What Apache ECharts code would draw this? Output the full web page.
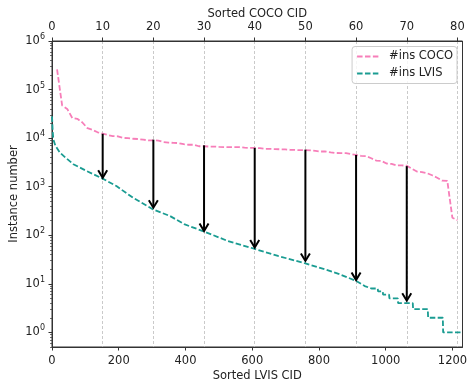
<!DOCTYPE html>
<html><head><meta charset="utf-8">
<script src="https://cdn.jsdelivr.net/npm/echarts@6/dist/echarts.min.js"></script>
<style>html,body{margin:0;padding:0;background:#fff}#c{width:474px;height:382px}</style>
</head><body><div id="c"></div>
<script>
// COCO instance counts, sorted, plotted against the top axis at CID 1..80
const cocoCounts = [260000, 47000, 40000, 26000, 25000, 21000, 16000, 14800, 13200, 12400,
  11600, 11000, 10900, 10100, 10000, 9700, 9600, 9300, 9000, 9000,
  8900, 8300, 8100, 8000, 7900, 7500, 7300, 7300, 6800, 6800,
  6700, 6700, 6600, 6550, 6500, 6500, 6500, 6350, 6300, 6300,
  6200, 6000, 6000, 5950, 5900, 5850, 5750, 5700, 5650, 5650,
  5600, 5450, 5300, 5300, 5100, 4950, 4900, 4900, 4700, 4500,
  4300, 4250, 3850, 3450, 3400, 3000, 2950, 2750, 2750, 2700,
  2350, 2050, 2000, 1900, 1720, 1530, 1330, 1320, 230, 205];
// LVIS instance counts, sorted, sampled at these LVIS CIDs (bottom axis)
const lvisIdx = [0, 2, 4, 10, 24, 40, 64, 104, 149, 193, 243, 303, 353, 398, 452, 527, 605, 677, 757, 816, 861, 911, 937, 957, 976, 977, 991, 992, 1010, 1011, 1036, 1037, 1081, 1082, 1126, 1127, 1171, 1172, 1229];
const lvisCounts = [28000, 14000, 9400, 7000, 5000, 4000, 2900, 2100, 1500, 1030, 590, 340, 250, 167, 122, 76, 53, 37.5, 26.6, 20, 15.8, 11.5, 9, 8, 8, 7, 7, 6, 6, 5, 5, 4, 4, 3, 3, 2, 2, 1, 1];
// arrows at COCO CIDs: from COCO count down to LVIS count
const arrowCid = [10, 20, 30, 40, 50, 60, 70];
const arrowFrom = [12300, 9300, 7100, 6300, 5800, 4500, 2650];
const arrowTo = [1530, 370, 122, 56, 29.6, 12, 4.5];
// tick values
const bottomTicks = [0, 200, 400, 600, 800, 1000, 1200];
const topTicks = [0, 10, 20, 30, 40, 50, 60, 70, 80];
const topGrid = [10, 20, 30, 40, 50, 60, 70, 80];
const yMajor = [1, 10, 100, 1000, 10000, 100000, 1000000];
const yMinor = [];
[0.1, 1, 10, 100, 1000, 10000, 100000].forEach(function (d) {
  for (let k = 2; k <= 9; k++) { const v = d * k; if (v >= 0.5 && v < 1e6) yMinor.push(v); }
});

const FONT = 'DejaVu Sans';
const TXT = '#222';
const AX = '#333';
const PINK = '#f77eb9';
const TEAL = '#1a9c92';

const chart = echarts.init(document.getElementById('c'), null, {renderer: 'canvas'});
const lab = {fontFamily: FONT, fontSize: 11.5, color: TXT};
const plain = function (v) { return String(v); };
const option = {
  animation: false,
  backgroundColor: '#fff',
  grid: {left: 52, right: 11.5, top: 41, bottom: 35, outerBoundsMode: 'none', containLabel: false,
    show: true, borderColor: AX, borderWidth: 1, backgroundColor: 'transparent'},
  legend: {
    data: ['#ins COCO', '#ins LVIS'], orient: 'vertical', right: 17, top: 46.5,
    backgroundColor: 'rgba(255,255,255,0.8)', borderColor: '#cccccc', borderWidth: 1, borderRadius: 3,
    padding: [4, 4, 4, 4], itemWidth: 23, itemHeight: 12, itemGap: 5,
    itemStyle: {opacity: 0, borderWidth: 0},
    textStyle: {fontFamily: FONT, fontSize: 11.5, color: TXT, padding: [0, 0, 0, 4]}
  },
  xAxis: [{
    type: 'value', position: 'bottom', min: 0, max: 1230,
    name: 'Sorted LVIS CID', nameLocation: 'middle', nameGap: 23.5, nameMoveOverlap: false,
    nameTextStyle: lab,
    axisLine: {show: true, lineStyle: {color: AX, width: 1}},
    axisTick: {show: true, customValues: bottomTicks, length: 3.5, lineStyle: {color: AX}},
    axisLabel: Object.assign({customValues: bottomTicks, margin: 8, formatter: plain}, lab),
    splitLine: {show: false}
  }, {
    type: 'value', position: 'top', min: 0, max: 81,
    name: 'Sorted COCO CID', nameLocation: 'middle', nameGap: 21, nameMoveOverlap: false,
    nameTextStyle: lab,
    axisLine: {show: true, lineStyle: {color: AX, width: 1}},
    axisTick: {show: true, customValues: topTicks, length: 3.5, lineStyle: {color: AX}},
    axisLabel: Object.assign({customValues: topTicks, margin: 7.5, formatter: plain}, lab),
    splitLine: {show: false}
  }, {
    type: 'value', position: 'top', min: 0, max: 81, show: true,
    axisLine: {show: false}, axisLabel: {show: false},
    axisTick: {show: false, customValues: topGrid},
    splitLine: {show: true, lineStyle: {color: '#bdbdbd', width: 0.8, type: [3, 2]}}
  }],
  yAxis: [{
    type: 'log', logBase: 10, min: 0.5, max: 1e6, position: 'left',
    name: 'Instance number', nameLocation: 'middle', nameGap: 32, nameMoveOverlap: false,
    nameTextStyle: lab,
    axisLine: {show: true, lineStyle: {color: AX, width: 1}},
    axisTick: {show: true, customValues: yMajor, length: 3.5, lineStyle: {color: AX}},
    axisLabel: {
      customValues: yMajor, margin: 7,
      formatter: function (v) { return '{b|10}{s|' + Math.round(Math.log10(v)) + '}'; },
      rich: {
        b: {fontFamily: FONT, fontSize: 11.5, color: TXT},
        s: {fontFamily: FONT, fontSize: 8, color: TXT, padding: [0, 0, 8, 0]}
      }
    },
    splitLine: {show: false}
  }, {
    type: 'log', logBase: 10, min: 0.5, max: 1e6, position: 'left',
    axisLine: {show: false}, axisLabel: {show: false}, splitLine: {show: false},
    axisTick: {show: true, customValues: yMinor, length: 2, lineStyle: {color: AX, width: 0.7}}
  }],
  series: [{
    name: '#ins COCO', type: 'line', xAxisIndex: 1, yAxisIndex: 0,
    data: cocoCounts.map(function (v, i) { return [i + 1, v]; }),
    showSymbol: false, symbol: 'none', color: PINK, z: 3,
    lineStyle: {color: PINK, width: 1.8, type: [5.5, 2.4]}
  }, {
    name: '#ins LVIS', type: 'line', xAxisIndex: 0, yAxisIndex: 0,
    data: lvisIdx.map(function (x, i) { return [x, lvisCounts[i]]; }),
    showSymbol: false, symbol: 'none', color: TEAL, z: 3,
    lineStyle: {color: TEAL, width: 1.8, type: [5.5, 2.4]}
  }, {
    name: 'arrows', type: 'custom', xAxisIndex: 1, yAxisIndex: 0, z: 4,
    data: arrowCid.map(function (x, i) { return [x, arrowFrom[i], arrowTo[i]]; }),
    encode: {x: 0, y: [1, 2]},
    renderItem: function (params, api) {
      const p1 = api.coord([api.value(0), api.value(1)]);
      const p2 = api.coord([api.value(0), api.value(2)]);
      return {type: 'group', children: [
        {type: 'line', shape: {x1: p1[0], y1: p1[1], x2: p2[0], y2: p2[1] - 1}, style: {stroke: '#000', lineWidth: 2}},
        {type: 'polyline', shape: {points: [[p2[0] - 4.5, p2[1] - 7.5], [p2[0], p2[1]], [p2[0] + 4.5, p2[1] - 7.5]]}, style: {stroke: '#000', lineWidth: 2, fill: null}}
      ]};
    }
  }]
};
chart.setOption(option);
</script>
</body></html>
